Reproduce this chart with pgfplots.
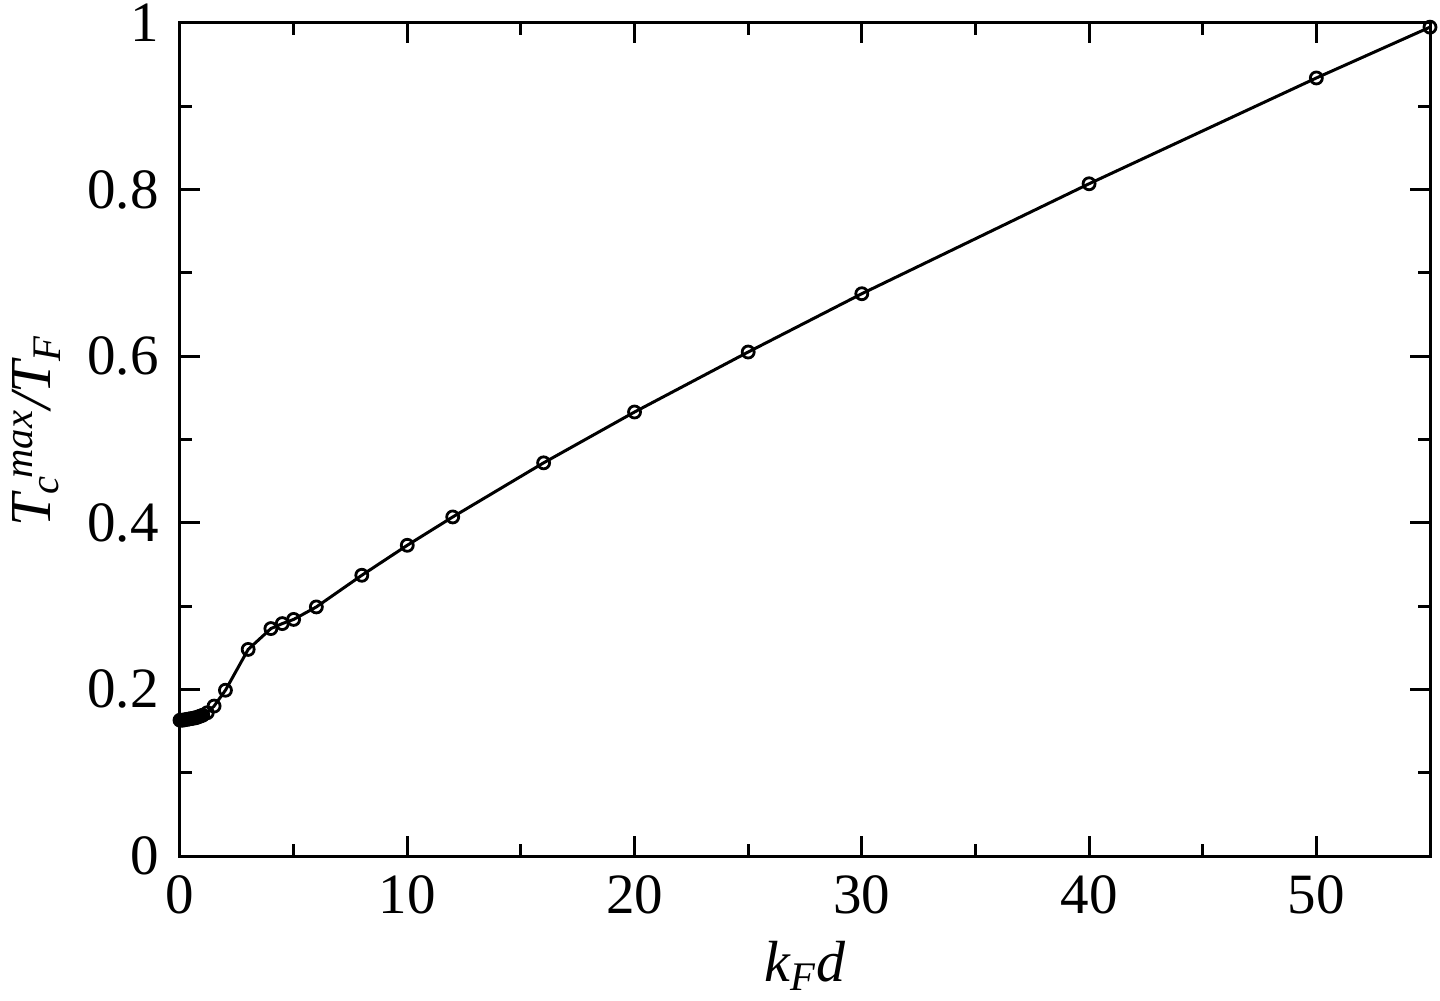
\documentclass[border=0pt]{standalone}
\usepackage{fontspec}
\setmainfont{Liberation Serif}
\usepackage{amsmath}
\usepackage{pgfplots}
\pgfplotsset{compat=1.18}
\begin{document}
\fontsize{28.5}{32}\selectfont
\begin{tikzpicture}
\begin{axis}[
  at={(0,0)}, anchor=south west,
  scale only axis,
  width=625pt, height=416.5pt,
  xmin=0, xmax=55, ymin=0, ymax=1,
  xtick distance=10, ytick distance=0.2,
  minor x tick num=1, minor y tick num=1,
  tick align=inside,
  major tick length=10pt, minor tick length=6pt,
  every tick/.append style={line width=1.5pt, black},
  axis line style={line width=1.5pt},
  /pgf/number format/assume math mode=true,
  ticklabel style={font=\fontsize{28.5}{32}\selectfont},
  yticklabel style={xshift=-1pt},
  xlabel={\itshape k$_{\text{\itshape F}}$d},
  ylabel={\itshape T$_{\text{\itshape c}}$\kern-0.05em$^{\text{\itshape max}}$/T$_{\text{\itshape F}}$},
  xlabel style={at={(axis description cs:0.5,-0.132)}, anchor=center, font=\fontsize{29}{32}\selectfont},
  ylabel style={at={(axis description cs:-0.115,0.51)}, anchor=center, font=\fontsize{29}{32}\selectfont},
  clip=false,
]
\addplot[black, line width=1.5pt, mark=o, mark size=3pt, mark options={line width=1.4pt}] coordinates {
(0,0.163) (0.1,0.163) (0.2,0.1635) (0.3,0.164) (0.4,0.1645) (0.5,0.165)
(0.6,0.1655) (0.7,0.166) (0.8,0.167) (0.9,0.168) (1.0,0.169) (1.2,0.172)
(1.5,0.180) (2,0.199) (3,0.248) (4,0.273) (4.5,0.279) (5,0.284) (6,0.299)
(8,0.337) (10,0.373) (12,0.407) (16,0.472) (20,0.533) (25,0.605) (30,0.675)
(40,0.807) (50,0.934) (55,0.995)
};
\end{axis}
\pgfresetboundingbox
\path (-90pt,-72.5pt) rectangle (630pt,428pt);
\end{tikzpicture}
\end{document}
